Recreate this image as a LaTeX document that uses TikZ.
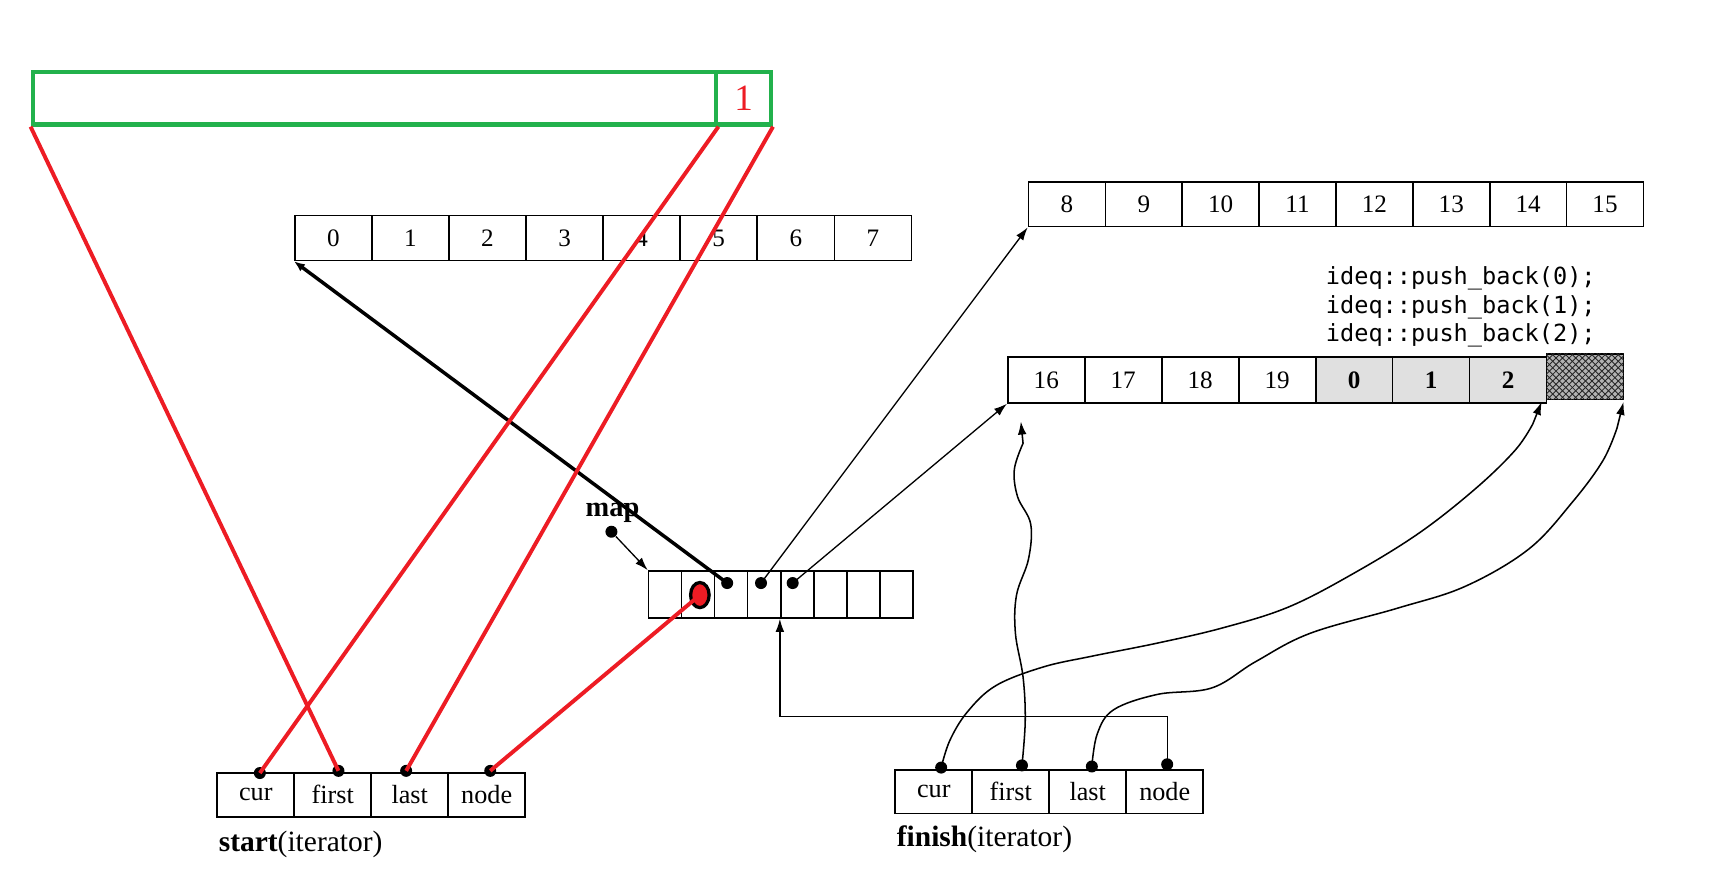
\documentclass[tikz,border=0pt]{standalone}
\usepackage{fontspec}
\setmainfont{Liberation Serif}
\newfontfamily\codefont{DejaVu Sans Mono}
\usetikzlibrary{arrows.meta,patterns,calc,shapes.geometric}
\definecolor{pgreen}{RGB}{34,177,76}
\definecolor{pred}{RGB}{237,28,36}
\begin{document}
\begin{tikzpicture}[x=0.5pt,y=-0.5pt,
  cell/.style={draw,line width=0.75pt,inner sep=0pt,font=\fontsize{11.5}{12}\selectfont},
  icell/.style={draw,line width=0.75pt,inner sep=0pt,minimum width=35.25pt,minimum height=20pt,font=\fontsize{12}{12}\selectfont},
  mcell/.style={draw,line width=0.75pt,inner sep=0pt,minimum width=15.1pt,minimum height=21.5pt},
  dot/.style={circle,fill=black,inner sep=0pt,minimum size=5.5pt},
  redline/.style={pred,line width=1.8pt},
  thin/.style={line width=0.6pt,-{Latex[length=6pt,width=4pt]}},
  wavy/.style={line width=0.7pt,-{Latex[length=6pt,width=4pt]}}]
\useasboundingbox (0,0) rectangle (1568,811);

% green box
\node[draw=pgreen,line width=2pt,minimum width=313pt,minimum height=24pt,inner sep=0pt] (g1) at (343,90) {};
\node[draw=pgreen,line width=2pt,minimum width=25pt,minimum height=24pt,inner sep=0pt,text=pred,font=\fontsize{17}{17}\selectfont] (g2) at (681,90) {1};

% array 0-7
\foreach \i in {0,...,7}
  \node[cell,minimum width=35.3pt,minimum height=20.5pt] (a\i) at ({270+70.6*(\i+0.5)},218) {\i};
% array 8-15
\foreach \i/\t in {0/8,1/9,2/10,3/11,4/12,5/13,6/14,7/15}
  \node[cell,minimum width=35.2pt,minimum height=20.5pt] (b\i) at ({942+70.4*(\i+0.5)},187) {\t};
% array 16..
\foreach \i/\t in {0/16,1/17,2/18,3/19}
  \node[cell,minimum width=35.25pt,minimum height=21pt] (c\i) at ({923+70.5*(\i+0.5)},348) {\t};
\foreach \i/\t in {4/0,5/1,6/2}
  \node[cell,fill=black!12,minimum width=35.25pt,minimum height=21pt] (c\i) at ({923+70.5*(\i+0.5)},348) {\textbf{\t}};
\node[cell,fill=black!30,postaction={pattern=crosshatch,pattern color=black!85},minimum width=35.25pt,minimum height=21pt] (c7) at ({923+70.5*7.5},345) {};

% code
\node[anchor=north west,align=left,inner sep=0pt,font=\codefont\fontsize{10.8}{13}\selectfont] (code) at (1214,244)
  {ideq::push\_back(0);\\ideq::push\_back(1);\\ideq::push\_back(2);};

% map
\foreach \i in {0,...,7}
  \node[mcell] (m\i) at ({594+30.25*(\i+0.5)},544.5) {};
\node[font=\bfseries\fontsize{13}{13}\selectfont,inner sep=0pt] (maplabel) at (561,470) {map};
\node[dot] (mapdot) at (560,487) {};
\draw[thin] (mapdot) -- (m0.north west);
\node[dot] (md3) at (666,534) {};
\node[dot] (md4) at (697,534) {};
\node[dot] (md5) at (726,534) {};
\node[ellipse,draw=black,line width=1.5pt,fill=pred,minimum width=8.5pt,minimum height=11.5pt,inner sep=0pt] (mred) at (641,545) {};

% start iterator
\foreach \i/\t in {0/cur,1/first,2/last,3/node}
  \node[icell] (s\i) at ({199+70.5*(\i+0.5)},728) {\t};
\node[anchor=west,inner sep=0pt,font=\fontsize{13.5}{14}\selectfont] (slabel) at (200,773) {\textbf{start}(iterator)};
\node[dot] (sd0) at (238,708) {};
\node[dot] (sd1) at (310,706) {};
\node[dot] (sd2) at (372,706) {};
\node[dot] (sd3) at (449,706) {};

% finish iterator
\foreach \i/\t in {0/cur,1/first,2/last,3/node}
  \node[icell] (f\i) at ({820+70.5*(\i+0.5)},725) {\t};
\node[anchor=west,inner sep=0pt,font=\fontsize{13.5}{14}\selectfont] (flabel) at (821,769) {\textbf{finish}(iterator)};
\node[dot] (fd0) at (862,703) {};
\node[dot] (fd1) at (936,701) {};
\node[dot] (fd2) at (1000,702) {};
\node[dot] (fd3) at (1069,700) {};

% map pointers
\draw[line width=1.6pt,-{Latex[length=5pt,width=4pt]}] (md3.center) -- (a0.south west);
\draw[thin] (md4.center) -- (b0.south west);
\draw[thin] (md5.center) -- (c0.south west);

% finish.node -> map
\coordinate (turn) at (1069,656);
\draw[thin] (fd3.center) -- (turn) -| (m4.south west);

% wavy pointers
\coordinate (t16) at (935,386);
\coordinate (t2) at (1412,368);
\coordinate (tend) at (1487,368);
\draw[wavy] plot[smooth,tension=0.6] coordinates {(936,701) (939,660) (937,620) (930,580) (931,545) (942,512) (944,480) (932,455) (929,430) (937,406)} -- (t16);
\draw[wavy] plot[smooth,tension=0.6] coordinates {(862,703) (870,678) (886,652) (912,628) (955,611) (1000,601) (1060,589) (1120,575) (1180,556) (1240,525) (1300,488) (1352,447) (1388,412) (1404,388)} -- (t2);
\draw[wavy] plot[smooth,tension=0.6] coordinates {(1000,702) (1005,672) (1020,650) (1060,636) (1110,630) (1150,606) (1200,580) (1280,557) (1342,537) (1400,503) (1440,460) (1468,422) (1481,392)} -- (tend);

% red lines
\draw[redline] (g1.south west) -- (sd1.center);
\draw[redline] (g1.south east) -- (sd0.center);
\draw[redline] (g2.south east) -- (sd2.center);
\draw[redline] (mred.center) -- (sd3.center);
\end{tikzpicture}
\end{document}
